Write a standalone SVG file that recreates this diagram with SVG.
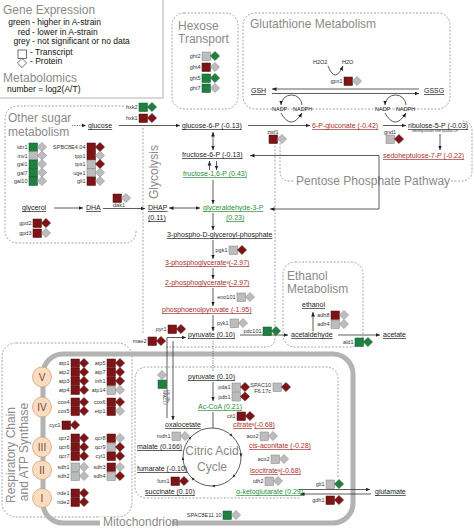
<svg xmlns="http://www.w3.org/2000/svg" width="474" height="529" viewBox="0 0 474 529">
<defs>
<style>
text{font-family:"Liberation Sans",Arial,sans-serif}
.t{font-size:12px;fill:#8a8a8a}
.m{font-size:7px;fill:#222;text-decoration:underline}
.mr{fill:#a8302e}
.mg{fill:#2b8f3c}
.g{font-size:5.5px;fill:#333;text-anchor:end}
.gc{font-size:5.5px;fill:#333;text-anchor:middle}
.l{font-size:8.5px;fill:#111}
.n{font-size:5.5px;fill:#222}
.box{fill:none;stroke:#8f8f8f;stroke-width:.8;stroke-dasharray:2 1.5}
.ln{fill:none;stroke:#333;stroke-width:.8}
.dot{fill:none;stroke:#555;stroke-width:.8;stroke-dasharray:1.2 1.2}
.a{marker-end:url(#ah)}
.aa{marker-start:url(#ah);marker-end:url(#ah)}
.c{marker-end:url(#ah2)}
.r{fill:#7d1416;stroke:#4d0a0b;stroke-width:.5}
.gr{fill:#1f8040;stroke:#0f5028;stroke-width:.5}
.y{fill:#bcbcbc;stroke:#808080;stroke-width:.5}
.w{fill:#fff;stroke:#333;stroke-width:.7}
.cx{fill:#fbdcc0;stroke:#d4a27a;stroke-width:.8}
.rn{font-size:10px;fill:#6d4c3d;text-anchor:middle}
</style>
<marker id="ah" viewBox="0 0 6 6" refX="6" refY="3" markerWidth="4.5" markerHeight="4.5" orient="auto-start-reverse" markerUnits="userSpaceOnUse"><path d="M0,0.5 L6,3 L0,5.5Z" fill="#222"/></marker>
<marker id="ah2" viewBox="0 0 6 6" refX="6" refY="3" markerWidth="3.5" markerHeight="3.5" orient="auto" markerUnits="userSpaceOnUse"><path d="M0,0.5 L6,3 L0,5.5Z" fill="#222"/></marker>
<rect id="sq" width="8.5" height="8.5"/>
<path id="dm" d="M0,-4.6 L4.6,0 L0,4.6 L-4.6,0Z"/>
</defs>

<g id="legend">
<rect x="-1" y="-1" width="164" height="99" fill="none" stroke="#b0b0b0" stroke-width="1"/>
<text class="t" x="3" y="14">Gene Expression</text>
<text class="l" x="30" y="25" text-anchor="end" fill="#2b8f3c">green</text><text class="l" x="32" y="25">- higher in A-strain</text>
<text class="l" x="30" y="35" text-anchor="end" fill="#b03030">red</text><text class="l" x="32" y="35">- lower in A-strain</text>
<text class="l" x="30" y="44" text-anchor="end" fill="#888">grey</text><text class="l" x="32" y="44">- not significant or no data</text>
<use href="#sq" class="w" x="18" y="50"/><text class="l" x="30" y="55">- Transcript</text>
<use href="#dm" class="w" x="22" y="63"/><text class="l" x="30" y="64">- Protein</text>
<text class="t" x="3" y="82">Metabolomics</text>
<text class="l" x="7" y="92">number = log2(A/T)</text>
</g>

<g id="compartments">
<rect class="box" x="172" y="13" width="66" height="96" rx="12"/>
<rect class="box" x="243" y="13" width="207" height="96" rx="12"/>
<path class="box" d="M124,106 H19 Q5,106 5,120 V229 Q5,243 19,243 H124 Q136,243 136,231"/>
<path class="box" d="M143,128 V333 M166,347 H265 Q275,347 275,337 V143"/>
<path class="box" d="M280,143 V171 Q280,181 290,181 H295 M451,181 H461 Q472,181 472,170 V131 Q472,121 462,121"/>
<rect class="box" x="283" y="262" width="80" height="85" rx="12"/>
<rect class="box" x="2" y="343" width="130" height="174" rx="14"/>
<path class="box" d="M338,477 V380 Q338,367 325,367 H148 Q135,367 135,380 V486 Q135,498 148,498 H300"/>
<rect x="43" y="354" width="310" height="169" rx="20" fill="none" stroke="#b3b3b3" stroke-width="5"/>
<rect x="100" y="517" width="72" height="12" fill="#fff"/>
<text class="t" x="103" y="525.5" font-size="11">Mitochondrion</text>
<text class="t" x="178" y="30">Hexose</text>
<text class="t" x="178" y="43">Transport</text>
<text class="t" x="250" y="28">Glutathione Metabolism</text>
<text class="t" x="8" y="122">Other sugar</text>
<text class="t" x="8" y="135.5">metabolism</text>
<text class="t" x="158" y="172" text-anchor="middle" transform="rotate(-90 158 172)">Glycolysis</text>
<text class="t" x="296" y="185">Pentose Phosphate Pathway</text>
<text class="t" x="287" y="280">Ethanol</text>
<text class="t" x="287" y="293">Metabolism</text>
<text class="t" x="15" y="455" font-size="12.5" text-anchor="middle" transform="rotate(-90 15 455)">Respiratory Chain</text>
<text class="t" x="27.5" y="452" font-size="12.5" text-anchor="middle" transform="rotate(-90 27.5 452)">and ATP Synthase</text>
</g>

<g id="connectors">
<path class="dot a" d="M72,125.5 H86"/>
<path class="ln a" d="M119,125.5 H180"/>
<path class="ln aa" d="M213,132 V150"/>
<path class="ln a" d="M209.5,170 V161"/>
<path class="ln a" d="M216.5,161 V170"/>
<path class="ln a" d="M213,180 V204"/>
<path class="ln aa" d="M169,208 H200"/>
<path class="ln a" d="M213,213 V230"/>
<path class="ln a" d="M213,240 V259"/>
<path class="ln a" d="M213,268 V279"/>
<path class="ln a" d="M213,288 V306"/>
<path class="ln a" d="M213,315 V331"/>
<path class="ln a" d="M248,125.5 H310"/>
<path class="ln a" d="M383,125.5 H406"/>
<path class="ln a" d="M440,134 V150"/>
<path class="ln a" d="M379,209 V155.5 H250"/>
<path class="ln a" d="M379,209 H270"/>
<path class="ln a" d="M54,208 H83"/>
<path class="ln a" d="M103,208.5 H145"/>
<path class="ln a" d="M419,89 H272"/>
<path class="ln a" d="M272,93.5 H419"/>
<path class="ln a" d="M328,66 Q335,84 343,66"/>
<path class="ln a" d="M302,105 A10.5,10 0 0 0 281,105"/>
<path class="ln a" d="M406,105 A10.5,10 0 0 0 385,105"/>
<path class="ln a" d="M281,113 Q291,131 302,113"/>
<path class="ln a" d="M385,113 Q395,131 406,113"/>
<path class="ln a" d="M240,335 H288"/>
<path class="ln a" d="M313,331 V312"/>
<path class="ln a" d="M338,335 H380"/>
<path class="dot" d="M213,341 V371"/>
<path class="ln a" d="M213,382 V401"/>
<path class="ln" d="M213,412 V428"/>
<path class="ln a" d="M167,418 V337.5 H186"/>
<path class="ln a" d="M173,341 V420"/>
<path class="ln a" d="M299,489.5 H370"/>
<path class="ln a" d="M371,494 H300"/>
<g class="ln">
<path class="c" d="M212,428 A29,29 0 0 1 232.5,436.5"/>
<path class="c" d="M232.5,436.5 A29,29 0 0 1 241,457"/>
<path class="c" d="M241,457 A29,29 0 0 1 232.5,477.5"/>
<path class="c" d="M232.5,477.5 A29,29 0 0 1 212,486"/>
<path class="c" d="M212,486 A29,29 0 0 1 191.5,477.5"/>
<path class="c" d="M191.5,477.5 A29,29 0 0 1 183,457"/>
<path class="c" d="M183,457 A29,29 0 0 1 191.5,436.5"/>
<path d="M191.5,436.5 A29,29 0 0 1 212,428"/>
</g>
</g>

<g id="metabolites">
<text class="m" x="88" y="128">glucose</text>
<text class="m" x="182" y="128">glucose-6-P (-0.13)</text>
<text class="m" x="182" y="157">fructose-6-P (-0.13)</text>
<text class="m mg" x="183" y="176">fructose-1,6-P (0.43)</text>
<text class="m" x="148" y="210">DHAP</text>
<text class="m" x="148" y="220">(0.11)</text>
<text class="m mg" x="203" y="210">glyceraldehyde-3-P</text>
<text class="m mg" x="226" y="220">(0.23)</text>
<text class="m" x="167" y="237">3-phospho-D-glyceroyl-phosphate</text>
<text class="m mr" x="165" y="265">3-phosphoglycerate<tspan font-size="4" dy="-2.5">a</tspan><tspan dy="2.5">(-2.97)</tspan></text>
<text class="m mr" x="165" y="285">2-phosphoglycerate<tspan font-size="4" dy="-2.5">a</tspan><tspan dy="2.5">(-2.97)</tspan></text>
<text class="m mr" x="162" y="312">phosphoenolpyruvate (-1.95)</text>
<text class="m" x="188" y="337">pyruvate (0.10)</text>
<text class="m" x="22" y="210">glycerol</text>
<text class="m" x="86" y="210">DHA</text>
<text class="m mr" x="312" y="128">6-P-gluconate (-0.42)</text>
<text class="m" x="408" y="128">ribulose-5-P (-0.03)</text>
<text x="412" y="132" font-size="3" fill="#333">indistinguishable from xylulose-5-P</text>
<text class="m mr" x="383" y="158">sedoheptulose-7-P (-0.22)</text>
<text class="m" x="251" y="93">GSH</text>
<text class="m" x="424" y="93">GSSG</text>
<text class="n" x="313" y="64">H2O2</text>
<text class="n" x="342" y="64">H2O</text>
<text class="n" x="272" y="111">NADP</text>
<text class="n" x="293" y="111">NADPH</text>
<text class="n" x="375" y="111">NADP</text>
<text class="n" x="396" y="111">NADPH</text>
<text class="m" x="302" y="307">ethanol</text>
<text class="m" x="291" y="337">acetaldehyde</text>
<text class="m" x="383" y="337">acetate</text>
<text class="m" x="188" y="379">pyruvate (0.10)</text>
<text class="m mg" x="198" y="409">Ac-CoA (0.21)</text>
<text class="m" x="165" y="427">oxalocetate</text>
<text class="m" x="137" y="449">malate (0.166)</text>
<text class="m" x="137" y="471">fumarate (-0.10)</text>
<text class="m" x="145" y="494">succinate (0.10)</text>
<text class="m mr" x="233" y="427">citrate<tspan font-size="4" dy="-2.5">a</tspan><tspan dy="2.5">(-0.68)</tspan></text>
<text class="m mr" x="249" y="448">cis-aconitate (-0.28)</text>
<text class="m mr" x="250" y="473">isocitrate<tspan font-size="4" dy="-2.5">a</tspan><tspan dy="2.5">(-0.68)</tspan></text>
<text class="m mg" x="236" y="494">α-ketoglutarate (0.29)</text>
<text class="m" x="375" y="494">glutamate</text>
<text class="t" x="212" y="455" font-size="12.5" text-anchor="middle">Citric Acid</text>
<text class="t" x="212" y="471" font-size="12.5" text-anchor="middle">Cycle</text>
</g>

<g id="complexes">
<ellipse class="cx" cx="42" cy="377" rx="9.5" ry="10"/><text class="rn" x="42" y="381">V</text>
<ellipse class="cx" cx="42" cy="407" rx="9.5" ry="10"/><text class="rn" x="42" y="411">IV</text>
<ellipse class="cx" cx="42" cy="447" rx="9.5" ry="10"/><text class="rn" x="42" y="451">III</text>
<ellipse class="cx" cx="42" cy="470" rx="9.5" ry="9.5"/><text class="rn" x="42" y="474">II</text>
<ellipse class="cx" cx="42" cy="498" rx="9.5" ry="9.5"/><text class="rn" x="42" y="502">I</text>
</g>

<g id="genes">
<g id="ght2"><text class="g" x="200.5" y="58">ght2</text><use href="#sq" class="y" x="202" y="52"/><use href="#dm" class="gr" x="215" y="56"/></g>
<g id="ght4"><text class="g" x="200.5" y="69">ght4</text><use href="#sq" class="r" x="202" y="63"/><use href="#dm" class="y" x="215" y="67"/></g>
<g id="ght5"><text class="g" x="200.5" y="80">ght5</text><use href="#sq" class="gr" x="202" y="74"/><use href="#dm" class="gr" x="215" y="78"/></g>
<g id="ght7"><text class="g" x="200.5" y="90">ght7</text><use href="#sq" class="gr" x="202" y="84"/><use href="#dm" class="y" x="215" y="88"/></g>
<g id="hxk2"><text class="g" x="137.5" y="109">hxk2</text><use href="#sq" class="gr" x="139" y="103"/><use href="#dm" class="gr" x="152" y="107"/></g>
<g id="hxk1"><text class="g" x="137.5" y="120">hxk1</text><use href="#sq" class="r" x="139" y="114"/><use href="#dm" class="r" x="152" y="118"/></g>
<g id="idn1"><text class="g" x="27.5" y="149">idn1</text><use href="#sq" class="gr" x="29" y="143"/><use href="#dm" class="y" x="42" y="147"/></g>
<g id="inv1"><text class="g" x="27.5" y="157.5">inv1</text><use href="#sq" class="y" x="29" y="151.5"/><use href="#dm" class="y" x="42" y="155.5"/></g>
<g id="gal1"><text class="g" x="27.5" y="166">gal1</text><use href="#sq" class="gr" x="29" y="160"/><use href="#dm" class="y" x="42" y="164"/></g>
<g id="gal7"><text class="g" x="27.5" y="174.5">gal7</text><use href="#sq" class="gr" x="29" y="168.5"/><use href="#dm" class="y" x="42" y="172.5"/></g>
<g id="gal10"><text class="g" x="27.5" y="183">gal10</text><use href="#sq" class="gr" x="29" y="177"/><use href="#dm" class="y" x="42" y="181"/></g>
<g id="SPBC8E4.04"><text class="g" x="85.5" y="149">SPBC8E4.04</text><use href="#sq" class="r" x="87" y="143"/><use href="#dm" class="r" x="100" y="147"/></g>
<g id="tpp1"><text class="g" x="85.5" y="157.5">tpp1</text><use href="#sq" class="r" x="87" y="151.5"/><use href="#dm" class="y" x="100" y="155.5"/></g>
<g id="tps1"><text class="g" x="85.5" y="166">tps1</text><use href="#sq" class="y" x="87" y="160"/><use href="#dm" class="r" x="100" y="164"/></g>
<g id="uge1"><text class="g" x="85.5" y="174.5">uge1</text><use href="#sq" class="y" x="87" y="168.5"/><use href="#dm" class="y" x="100" y="172.5"/></g>
<g id="gli1"><text class="g" x="85.5" y="183">gli1</text><use href="#sq" class="r" x="87" y="177"/><use href="#dm" class="y" x="100" y="181"/></g>
<g id="dak1"><text class="gc" x="119" y="206.5">dak1</text><use href="#sq" class="r" x="113" y="194"/><use href="#dm" class="y" x="126" y="198"/></g>
<g id="gpd2"><text class="g" x="31.5" y="225">gpd2</text><use href="#sq" class="r" x="33" y="219"/><use href="#dm" class="r" x="46" y="223"/></g>
<g id="gpd3"><text class="g" x="31.5" y="235">gpd3</text><use href="#sq" class="r" x="33" y="229"/><use href="#dm" class="y" x="46" y="233"/></g>
<g id="pgk1"><text class="g" x="227.5" y="252">pgk1</text><use href="#sq" class="y" x="229" y="246"/><use href="#dm" class="r" x="242" y="250"/></g>
<g id="eno101"><text class="g" x="235.5" y="299">eno101</text><use href="#sq" class="y" x="237" y="293"/><use href="#dm" class="y" x="250" y="297"/></g>
<g id="pyk1"><text class="g" x="228.5" y="325">pyk1</text><use href="#sq" class="y" x="230" y="319"/><use href="#dm" class="y" x="243" y="323"/></g>
<g id="zwf1"><text class="gc" x="273" y="133.5">zwf1</text><use href="#sq" class="r" x="269" y="135"/><use href="#dm" class="y" x="282" y="139"/></g>
<g id="gnd1"><text class="gc" x="390" y="133.5">gnd1</text><use href="#sq" class="y" x="386" y="135"/><use href="#dm" class="r" x="399" y="139"/></g>
<g id="gpx1"><text class="g" x="342.5" y="83">gpx1</text><use href="#sq" class="r" x="344" y="77"/><use href="#dm" class="y" x="357" y="81"/></g>
<g id="pyr1"><text class="g" x="166.5" y="331">pyr1</text><use href="#sq" class="r" x="168" y="325"/><use href="#dm" class="r" x="181" y="329"/></g>
<g id="mae2"><text class="g" x="146.5" y="343">mae2</text><use href="#sq" class="r" x="148" y="337"/><use href="#dm" class="r" x="161" y="341"/></g>
<g id="pdc101"><text class="g" x="261.5" y="333">pdc101</text><use href="#sq" class="gr" x="263" y="327"/><use href="#dm" class="gr" x="276" y="331"/></g>
<g id="adh8"><text class="g" x="329.5" y="317">adh8</text><use href="#sq" class="r" x="331" y="311"/><use href="#dm" class="y" x="344" y="315"/></g>
<g id="adh4"><text class="g" x="329.5" y="326">adh4</text><use href="#sq" class="y" x="331" y="320"/><use href="#dm" class="y" x="344" y="324"/></g>
<g id="ald1"><text class="g" x="353.5" y="344">ald1</text><use href="#sq" class="gr" x="355" y="338"/><use href="#dm" class="gr" x="368" y="342"/></g>
<g id="pda1"><text class="g" x="230.5" y="389">pda1</text><use href="#sq" class="y" x="232" y="383"/><use href="#dm" class="r" x="245" y="387"/></g>
<g id="pdb1"><text class="g" x="230.5" y="398.5">pdb1</text><use href="#sq" class="y" x="232" y="392.5"/><use href="#dm" class="r" x="245" y="396.5"/></g>
<g id="SPAC10F6.17c"><text class="g" x="271" y="387">SPAC10</text><text class="g" x="271" y="393">F6.17c</text><use href="#sq" class="y" x="273" y="383"/><use href="#dm" class="r" x="286" y="387"/></g>
<g id="cit1"><text class="g" x="235.5" y="418">cit1</text><use href="#sq" class="r" x="237" y="412"/><use href="#dm" class="r" x="250" y="416"/></g>
<g id="mdh1"><text class="g" x="170.5" y="438">mdh1</text><use href="#sq" class="y" x="172" y="432"/><use href="#dm" class="y" x="185" y="436"/></g>
<g id="aco2a"><text class="g" x="258.5" y="438">aco2</text><use href="#sq" class="y" x="260" y="432"/><use href="#dm" class="y" x="273" y="436"/></g>
<g id="aco2b"><text class="g" x="269.5" y="461">aco2</text><use href="#sq" class="y" x="271" y="455"/><use href="#dm" class="y" x="284" y="459"/></g>
<g id="idh2"><text class="g" x="263.5" y="483">idh2</text><use href="#sq" class="y" x="265" y="477"/><use href="#dm" class="y" x="278" y="481"/></g>
<g id="fum1"><text class="g" x="169.5" y="483">fum1</text><use href="#sq" class="r" x="171" y="477"/><use href="#dm" class="r" x="184" y="481"/></g>
<g id="glt1"><text class="g" x="324.5" y="486">glt1</text><use href="#sq" class="y" x="326" y="480"/><use href="#dm" class="gr" x="339" y="484"/></g>
<g id="gdh1"><text class="g" x="324.5" y="502">gdh1</text><use href="#sq" class="r" x="326" y="496"/><use href="#dm" class="r" x="339" y="500"/></g>
<g id="SPAC8E11.10"><text class="g" x="221.5" y="517">SPAC8E11.10</text><use href="#sq" class="gr" x="223" y="511"/><use href="#dm" class="y" x="236" y="515"/></g>
<g id="SPAC-mpc"><use href="#dm" class="y" x="162" y="375"/><use href="#sq" class="gr" x="158" y="380"/><text x="163" y="390" font-size="4" fill="#333" transform="rotate(90 163 390)">SPAC17</text><text x="167" y="390" font-size="4" fill="#333" transform="rotate(90 167 390)">G6.08c</text></g>
</g>

<g id="resp-genes">
<g id="atp1"><text class="g" x="69.5" y="365">atp1</text><use href="#sq" class="r" x="71" y="359"/><use href="#dm" class="r" x="84" y="363"/></g>
<g id="atp2"><text class="g" x="69.5" y="374">atp2</text><use href="#sq" class="r" x="71" y="368"/><use href="#dm" class="r" x="84" y="372"/></g>
<g id="atp3"><text class="g" x="69.5" y="383">atp3</text><use href="#sq" class="r" x="71" y="377"/><use href="#dm" class="r" x="84" y="381"/></g>
<g id="atp4"><text class="g" x="69.5" y="392">atp4</text><use href="#sq" class="r" x="71" y="386"/><use href="#dm" class="r" x="84" y="390"/></g>
<g id="cox4"><text class="g" x="69.5" y="404">cox4</text><use href="#sq" class="r" x="71" y="398"/><use href="#dm" class="r" x="84" y="402"/></g>
<g id="cox5"><text class="g" x="69.5" y="413">cox5</text><use href="#sq" class="r" x="71" y="407"/><use href="#dm" class="r" x="84" y="411"/></g>
<g id="cyc1"><text class="g" x="60.5" y="427">cyc1</text><use href="#sq" class="r" x="62" y="421"/><use href="#dm" class="r" x="75" y="425"/></g>
<g id="qcr2"><text class="g" x="69.5" y="440">qcr2</text><use href="#sq" class="r" x="71" y="434"/><use href="#dm" class="r" x="84" y="438"/></g>
<g id="qcr6"><text class="g" x="69.5" y="449">qcr6</text><use href="#sq" class="r" x="71" y="443"/><use href="#dm" class="r" x="84" y="447"/></g>
<g id="qcr7"><text class="g" x="69.5" y="458">qcr7</text><use href="#sq" class="r" x="71" y="452"/><use href="#dm" class="r" x="84" y="456"/></g>
<g id="sdh1"><text class="g" x="69.5" y="469">sdh1</text><use href="#sq" class="y" x="71" y="463"/><use href="#dm" class="y" x="84" y="467"/></g>
<g id="sdh2"><text class="g" x="69.5" y="478">sdh2</text><use href="#sq" class="y" x="71" y="472"/><use href="#dm" class="y" x="84" y="476"/></g>
<g id="nde1"><text class="g" x="69.5" y="495">nde1</text><use href="#sq" class="r" x="71" y="489"/><use href="#dm" class="r" x="84" y="493"/></g>
<g id="nde2"><text class="g" x="69.5" y="504">nde2</text><use href="#sq" class="r" x="71" y="498"/><use href="#dm" class="r" x="84" y="502"/></g>
<g id="atp5"><text class="g" x="105.5" y="365">atp5</text><use href="#sq" class="r" x="107" y="359"/><use href="#dm" class="r" x="120" y="363"/></g>
<g id="atp7"><text class="g" x="105.5" y="374">atp7</text><use href="#sq" class="r" x="107" y="368"/><use href="#dm" class="r" x="120" y="372"/></g>
<g id="inh1"><text class="g" x="105.5" y="383">inh1</text><use href="#sq" class="r" x="107" y="377"/><use href="#dm" class="r" x="120" y="381"/></g>
<g id="atp14"><text class="g" x="105.5" y="392">atp14</text><use href="#sq" class="y" x="107" y="386"/><use href="#dm" class="y" x="120" y="390"/></g>
<g id="cox6"><text class="g" x="105.5" y="404">cox6</text><use href="#sq" class="r" x="107" y="398"/><use href="#dm" class="r" x="120" y="402"/></g>
<g id="etp1"><text class="g" x="105.5" y="413">etp1</text><use href="#sq" class="r" x="107" y="407"/><use href="#dm" class="y" x="120" y="411"/></g>
<g id="qcr8"><text class="g" x="105.5" y="440">qcr8</text><use href="#sq" class="r" x="107" y="434"/><use href="#dm" class="y" x="120" y="438"/></g>
<g id="qcr9"><text class="g" x="105.5" y="449">qcr9</text><use href="#sq" class="y" x="107" y="443"/><use href="#dm" class="r" x="120" y="447"/></g>
<g id="cyt1"><text class="g" x="105.5" y="458">cyt1</text><use href="#sq" class="r" x="107" y="452"/><use href="#dm" class="r" x="120" y="456"/></g>
<g id="sdh3"><text class="g" x="105.5" y="469">sdh3</text><use href="#sq" class="r" x="107" y="463"/><use href="#dm" class="y" x="120" y="467"/></g>
<g id="sdh4"><text class="g" x="105.5" y="478">sdh4</text><use href="#sq" class="y" x="107" y="472"/><use href="#dm" class="r" x="120" y="476"/></g>
</g>
</svg>
